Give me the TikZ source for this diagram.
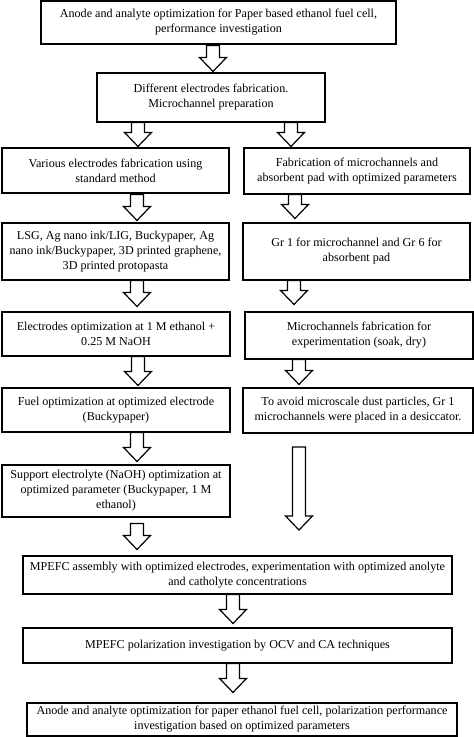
\documentclass[tikz,border=0pt]{standalone}
\usepackage{fontspec}
\setmainfont{Liberation Serif}
\newfontfamily\tnr{Liberation Serif}
\usetikzlibrary{calc}
\tikzset{
  box/.style={draw=black, line width=1.1pt, fill=white, inner sep=0pt, align=center,
    font=\tnr\fontsize{12.1}{15}\selectfont},
  blockarr/.style={draw=black, line width=1.2pt, fill=white, line join=miter}
}
\newcommand\barrow[5]{%
  \draw[blockarr] let \p1=(#2.south), \p2=(#3.north) in
    ({#1pt-6.5pt},{\y1-#4pt}) -- ({#1pt-6.5pt},{\y2+#5pt+14pt}) --
    ({#1pt-13.5pt},{\y2+#5pt+14pt}) -- ({#1pt},{\y2+#5pt}) --
    ({#1pt+13.5pt},{\y2+#5pt+14pt}) -- ({#1pt+6.5pt},{\y2+#5pt+14pt}) --
    ({#1pt+6.5pt},{\y1-#4pt}) -- cycle;}
\newcommand\bx[6]{\node[box, minimum width=#4pt, minimum height=#5pt] (#1) at (#2,#3) {#6};}
\begin{document}
\begin{tikzpicture}[x=1pt,y=-1pt]
\useasboundingbox[fill=white] (0,0) rectangle (474,737);
\bx{b1}{218.5}{22.5}{355}{43}{Anode and analyte optimization for Paper based ethanol fuel cell,\\performance investigation}
\bx{b2}{211}{97.5}{228}{49}{Different electrodes fabrication.\\ Microchannel preparation}
\bx{l3}{115.5}{170.5}{227}{45}{Various electrodes fabrication using\\standard method}
\bx{r3}{357}{171}{226}{46}{Fabrication of microchannels and\\absorbent pad with optimized parameters}
\bx{l4}{115.5}{251.5}{227}{57}{LSG, Ag nano ink/LIG, Buckypaper, Ag\\nano ink/Buckypaper, 3D printed graphene,\\3D printed protopasta}
\bx{r4}{356.5}{251.5}{227}{57}{Gr 1 for microchannel and Gr 6 for\\absorbent pad}
\bx{l5}{116}{334}{228}{44}{Electrodes optimization at 1 M ethanol +\\0.25 M NaOH}
\bx{r5}{359}{335.5}{228}{47}{Microchannels fabrication for\\experimentation (soak, dry)}
\bx{l6}{116}{410}{228}{44}{Fuel optimization at optimized electrode\\(Buckypaper)}
\bx{r6}{358}{410.5}{230}{45}{To avoid microscale dust particles, Gr 1\\microchannels were placed in a desiccator.}
\bx{l7}{116}{491}{228}{52}{Support electrolyte (NaOH) optimization at\\optimized parameter (Buckypaper, 1 M\\ethanol)}
\bx{b8}{237.5}{575}{429}{38}{MPEFC assembly with optimized electrodes, experimentation with optimized anolyte\\and catholyte concentrations}
\bx{b9}{237.5}{645.5}{429}{35}{MPEFC polarization investigation by OCV and CA techniques}
\bx{b10}{242}{719.5}{430}{33}{Anode and analyte optimization for paper ethanol fuel cell, polarization performance\\investigation based on optimized parameters}
\coordinate (rtop) at (299,447);
\coordinate (rbot) at (299,530);
\barrow{213}{b1}{b2}{1}{1}
\barrow{138}{b2}{l3}{0}{1}
\barrow{291}{b2}{r3}{0}{1}
\barrow{137}{l3}{l4}{1}{2}
\barrow{295}{r3}{r4}{0}{4}
\barrow{137}{l4}{l5}{0}{5}
\barrow{294}{r4}{r5}{0}{7}
\barrow{138}{l5}{l6}{0}{2}
\barrow{299}{r5}{r6}{0}{3}
\barrow{137}{l6}{l7}{0}{3}
\barrow{137}{l7}{b8}{6}{6}
\barrow{233}{b8}{b9}{0}{4}
\barrow{233}{b9}{b10}{0}{10}
\draw[blockarr] let \p1=(rtop), \p2=(rbot) in
    ({\x1-6.5pt},\y1) -- ({\x1-6.5pt},{\y2+14pt}) -- ({\x1-13.5pt},{\y2+14pt}) --
    (\x2,\y2) -- ({\x1+13.5pt},{\y2+14pt}) -- ({\x1+6.5pt},{\y2+14pt}) --
    ({\x1+6.5pt},\y1) -- cycle;
\end{tikzpicture}
\end{document}
